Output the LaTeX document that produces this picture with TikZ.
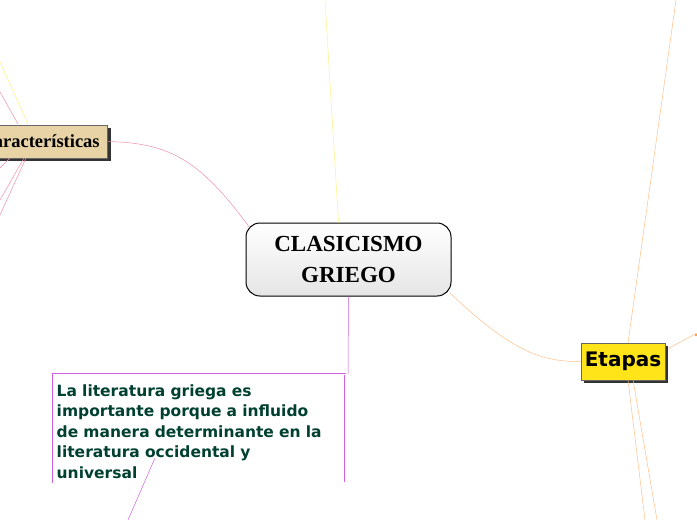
\documentclass[tikz,border=0pt]{standalone}
\usepackage{fontspec}
\setmainfont{Liberation Serif}
\newfontfamily\dejab{DejaVu Sans}
\usetikzlibrary{shadows}
\definecolor{tan}{HTML}{E8D3A6}
\definecolor{ylw}{HTML}{FFE41A}
\definecolor{dgreen}{HTML}{004030}
\definecolor{pinkl}{HTML}{EE90A8}
\definecolor{orl}{HTML}{FFBE88}
\definecolor{ylwl}{HTML}{FFF080}
\definecolor{purl}{HTML}{D060E0}
\begin{document}
\begin{tikzpicture}[x=1pt,y=-1pt,
  shbox/.style={draw=black!60,line width=0.8pt,drop shadow={shadow xshift=3pt,shadow yshift=-3pt,fill=black!80,opacity=1}},
  conn/.style={line width=0.5pt}]
\useasboundingbox (0,0) rectangle (697,520);
\begin{scope}
\clip (0,0) rectangle (697,520);
\node[draw=black,line width=1pt,rounded corners=14pt,top color=white,bottom color=black!10,minimum width=205pt,minimum height=73pt,align=center,font=\bfseries\fontsize{23}{31}\selectfont] (c) at (348.5,259.5) {CLASICISMO\\GRIEGO};
\node[shbox,fill=tan,minimum width=135pt,minimum height=33pt,anchor=east,font=\bfseries\fontsize{18.5}{20}\selectfont,inner sep=2pt] (car) at (108,141.5) {Características};
\node[shbox,fill=ylw,minimum width=84pt,minimum height=37pt,font=\dejab\bfseries\fontsize{20}{22}\selectfont,inner sep=2pt] (et) at (623,361.5) {Etapas};
\node[draw=purl,double=white,double distance=1pt,minimum width=292pt,minimum height=83pt,anchor=north west,align=left,text width=285pt,inner xsep=3pt,inner ysep=4pt,text=dgreen,font=\dejab\bfseries\fontsize{15.5}{20.5}\selectfont] (t) at (53,374) {\rule{0pt}{18pt}La literatura griega es\\importante porque a influido\\de manera determinante en la\\literatura occidental y\\universal};
\coordinate (y0) at (325,0);
\draw[conn,ylwl] (c.north) ++(-10,0) -- (y0);
\draw[conn,pinkl] (c.north west) ++(4,5) .. controls (200,160) and (170,143) .. (car.east);
\draw[conn,orl] (c.south east) ++(-2,-4) .. controls (510,350) and (540,362) .. (et.west);
\draw[conn,purl] (c.south) -- (348,374);
\coordinate (pb) at (128,520);
\draw[conn,purl] (155,458) -- (pb);
\coordinate (e1) at (676,0); \coordinate (e2) at (697,333);
\coordinate (e3) at (645,520); \coordinate (e4) at (657,520);
\draw[conn,orl] (628,343) -- (e1);
\draw[conn,orl] (et.east) ++(3,-13) -- (e2);
\fill[orange] (696,335) circle (1.2pt);
\draw[conn,orl] (628,380) -- (e3);
\draw[conn,orl] (633,380) -- (e4);
\draw[conn,ylwl] (28,124) -- (0,62);
\draw[conn,pinkl] (18,124) -- (0,92);
\draw[conn,pinkl] (10,158) -- (0,168);
\draw[conn,pinkl] (24,158) -- (0,200);
\draw[conn,pinkl] (26,158) -- (0,215);
\end{scope}
\end{tikzpicture}
\end{document}
